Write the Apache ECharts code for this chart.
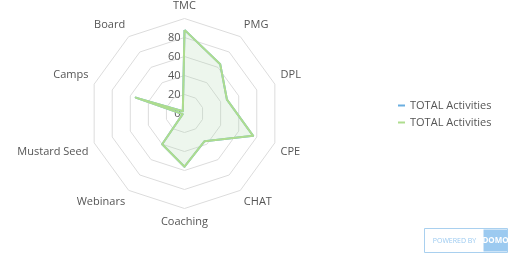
<!DOCTYPE html>
<html><head><meta charset="utf-8">
<script src="https://cdn.jsdelivr.net/npm/echarts@6/dist/echarts.min.js"></script>
<style>html,body{margin:0;padding:0;background:#fff}#c{width:508px;height:254px}</style>
</head><body><div id="c"></div>
<script>
// Reference order, clockwise from top
const indicators = ['TMC','PMG','DPL','CPE','CHAT','Coaching','Webinars','Mustard Seed','Camps','Board'];
const seriesNames = ['TOTAL Activities','TOTAL Activities'];
const blueValues = [88, 64, 47, 76, 36, 56, 40, 2, 54, 3];
const greenValues = [88, 64, 47, 76, 36, 56, 40, 2, 54, 3];
const tickMax = 100;

// ECharts radar runs counter-clockwise; reorder so the picture runs clockwise.
const order = [0].concat(indicators.slice(1).map((_, i) => indicators.length - 1 - i));
const ind = order.map(i => indicators[i]);
const blueV = order.map(i => blueValues[i]);
const greenV = order.map(i => greenValues[i]);
const upper = ['PMG','DPL','Camps','Board'];
const lower = ['CPE','CHAT','Webinars','Mustard Seed'];

const chart = echarts.init(document.getElementById('c'));
const font = '"Open Sans", sans-serif';
chart.setOption({
  animation: false,
  legend: {
    orient: 'vertical', left: 393, top: 95, itemGap: 6,
    icon: 'rect', itemWidth: 7, itemHeight: 2,
    textStyle: {color: '#555', fontSize: 11, fontFamily: font},
    data: [{name: 'blue', itemStyle: {color: '#6aaee0'}}, {name: 'green', itemStyle: {color: '#aedd8e'}}],
    formatter: function(n){ return n === 'blue' ? seriesNames[0] : seriesNames[1]; }
  },
  radar: {
    center: [184.5, 113.5], radius: 95, shape: 'polygon', splitNumber: 5,
    startAngle: 90,
    indicator: ind.map(n => ({name: n, max: tickMax, min: 0})),
    axisName: {color: '#555', fontSize: 11, fontFamily: font, lineHeight: 14,
      formatter: function(n){
        if (upper.indexOf(n) >= 0) return n + '\n ';
        if (lower.indexOf(n) >= 0) return ' \n' + n;
        return n;
      }},
    nameGap: 6,
    axisLine: {show: false},
    axisTick: {show: false},
    splitArea: {show: false},
    splitLine: {lineStyle: {color: '#dcdcdc', width: 1}}
  },
  polar: {center: [184.5, 113.5], radius: 95},
  angleAxis: {type: 'value', startAngle: 90, show: false, min: 0, max: 360},
  radiusAxis: {
    type: 'value', min: 0, max: tickMax, interval: 20,
    axisLine: {show: false}, axisTick: {show: false}, splitLine: {show: false},
    axisLabel: {color: '#555', fontSize: 11, fontFamily: font, margin: 4,
      formatter: v => v >= 100 ? '' : String(v)}
  },
  series: [
    {type: 'radar', name: 'blue', symbol: 'none',
     lineStyle: {color: '#6aaee0', width: 2},
     itemStyle: {color: '#6aaee0'},
     areaStyle: {color: 'rgba(106,174,224,0.08)'},
     data: [{value: blueV, name: 'blue'}]},
    {type: 'radar', name: 'green', symbol: 'none',
     lineStyle: {color: '#aedd8e', width: 2},
     itemStyle: {color: '#aedd8e'},
     areaStyle: {color: 'rgba(174,221,142,0.2)'},
     data: [{value: greenV, name: 'green'}]}
  ],
  graphic: [
    {type: 'group', left: 424, top: 228, children: [
      {type: 'rect', shape: {x: 0, y: 0, width: 83, height: 24}, style: {fill: '#fff', stroke: '#a9d0ef', lineWidth: 1}},
      {type: 'rect', shape: {x: 59, y: 1, width: 24, height: 22}, style: {fill: '#9ccaf0'}},
      {type: 'text', x: 30, y: 12, style: {text: 'POWERED BY', fill: '#9ccaf0', fontSize: 7, fontFamily: font, align: 'center', verticalAlign: 'middle'}},
      {type: 'text', x: 71, y: 12, style: {text: 'DOMO', fill: '#fff', fontSize: 8, fontWeight: 'bold', fontFamily: font, align: 'center', verticalAlign: 'middle'}}
    ]}
  ]
});
</script></body></html>
